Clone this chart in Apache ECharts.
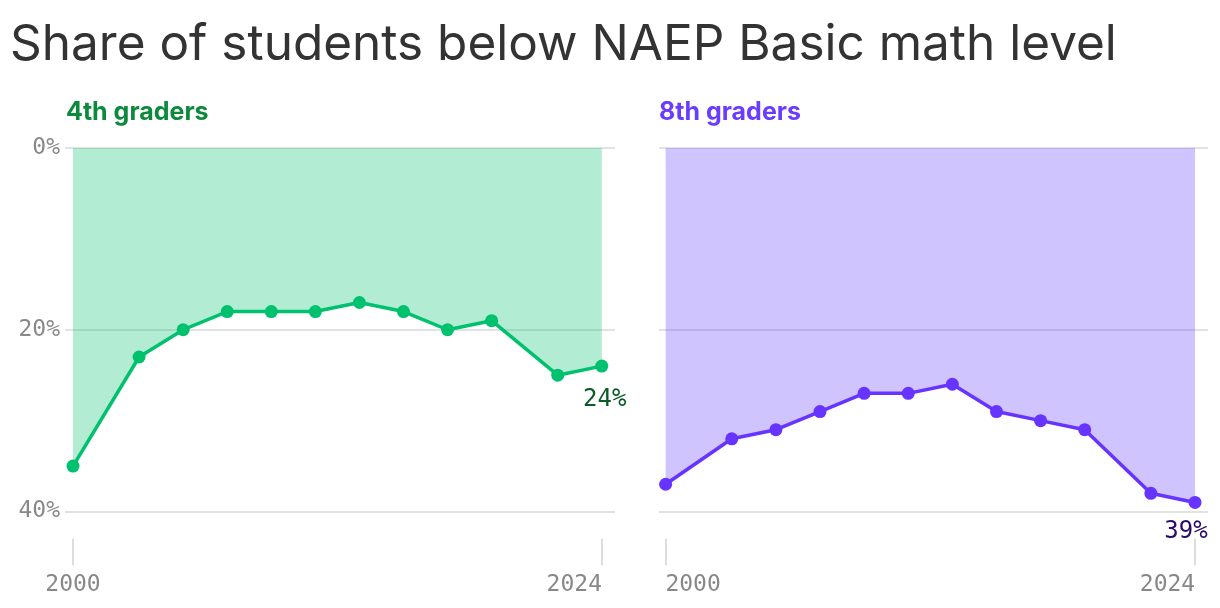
<!DOCTYPE html>
<html>
<head>
<meta charset="utf-8">
<script src="https://cdn.jsdelivr.net/npm/echarts@6/dist/echarts.min.js"></script>
<style>
html,body{margin:0;padding:0;background:#fff;}
#chart{width:1220px;height:608px;}
</style>
</head>
<body>
<div id="chart"></div>
<script>
const years = [2000, 2003, 2005, 2007, 2009, 2011, 2013, 2015, 2017, 2019, 2022, 2024];
const grade4 = [35, 23, 20, 18, 18, 18, 17, 18, 20, 19, 25, 24];
const grade8 = [37, 32, 31, 29, 27, 27, 26, 29, 30, 31, 38, 39];
const yTicks = [0, 20, 40];
const xTicks = [2000, 2024];
const titleText = 'Share of students below NAEP Basic math level';
const panelTitles = ['4th graders', '8th graders'];

const mono = '"DejaVu Sans Mono", "Liberation Mono", monospace';
const LABEL_PAD = 55;

function buildData(vals, labelColor, offset) {
  return vals.map((v, i) => {
    const item = { value: [years[i], v] };
    if (i === vals.length - 1) {
      item.label = {
        show: true,
        position: 'inside',
        offset: offset,
        formatter: v + '%',
        color: labelColor,
        fontFamily: mono,
        fontSize: 24
      };
    }
    return item;
  });
}

const chart = echarts.init(document.getElementById('chart'));

function xAxis(idx, min, max, firstAlign) {
  const txt = { color: '#888888', fontFamily: mono, fontSize: 23 };
  return {
    type: 'value', gridIndex: idx, min: min, max: max,
    position: 'bottom', offset: 27,
    axisLine: { show: false, onZero: false },
    splitLine: { show: false },
    axisTick: { show: true, customValues: xTicks, length: 27, lineStyle: { color: '#dddddd', width: 2 } },
    axisLabel: {
      show: true, customValues: xTicks, margin: 35,
      color: '#888888', fontFamily: mono, fontSize: 23,
      formatter: v => {
        if (v === xTicks[xTicks.length - 1]) return '{r|' + v + '}';
        return (firstAlign === 'left' ? '{l|' : '{c|') + v + '}';
      },
      rich: {
        c: Object.assign({}, txt),
        l: Object.assign({ padding: [0, 0, 0, LABEL_PAD] }, txt),
        r: Object.assign({ padding: [0, LABEL_PAD, 0, 0] }, txt)
      }
    }
  };
}
function yAxis(idx, showLabels) {
  return {
    type: 'value', gridIndex: idx, min: 0, max: 40, interval: 20, inverse: true,
    axisLine: { show: false }, axisTick: { show: false },
    splitLine: { show: true, lineStyle: { color: '#e2e2e2', width: 2 } },
    axisLabel: { show: showLabels, color: '#888888', fontFamily: mono, fontSize: 23, margin: 5, formatter: v => v + '%' }
  };
}

chart.setOption({
  animation: false,
  title: [
    { text: titleText, left: 5, top: 15, textStyle: { fontFamily: 'Inter, "Liberation Sans", sans-serif', fontWeight: 'normal', fontSize: 49.5, color: '#333333' } },
    { text: panelTitles[0], left: 61, top: 95, textStyle: { fontFamily: 'Inter, "Noto Sans", sans-serif', fontWeight: 'bold', fontSize: 25, color: '#0c8a3c' } },
    { text: panelTitles[1], left: 654, top: 95, textStyle: { fontFamily: 'Inter, "Noto Sans", sans-serif', fontWeight: 'bold', fontSize: 25, color: '#6a3cff' } }
  ],
  grid: [
    { left: 65, width: 550, top: 148, height: 363.5 },
    { left: 659, width: 549, top: 148, height: 363.5 }
  ],
  xAxis: [xAxis(0, 1999.637, 2024.6, 'center'), xAxis(1, 1999.70, 2024.59, 'left')],
  yAxis: [yAxis(0, true), yAxis(1, false)],
  series: [
    {
      type: 'line', xAxisIndex: 0, yAxisIndex: 0,
      data: buildData(grade4, '#0b5a27', [3, 34]),
      symbol: 'circle', symbolSize: 13,
      lineStyle: { color: '#00c16e', width: 3.5 },
      itemStyle: { color: '#00c16e' },
      areaStyle: { color: '#00c16e', opacity: 0.3, origin: 'start' }
    },
    {
      type: 'line', xAxisIndex: 1, yAxisIndex: 1,
      data: buildData(grade8, '#2a0b6b', [-9, 29]),
      symbol: 'circle', symbolSize: 13,
      lineStyle: { color: '#6633ff', width: 3.5 },
      itemStyle: { color: '#6633ff' },
      areaStyle: { color: '#643cff', opacity: 0.3, origin: 'start' }
    }
  ]
});
</script>
</body>
</html>
